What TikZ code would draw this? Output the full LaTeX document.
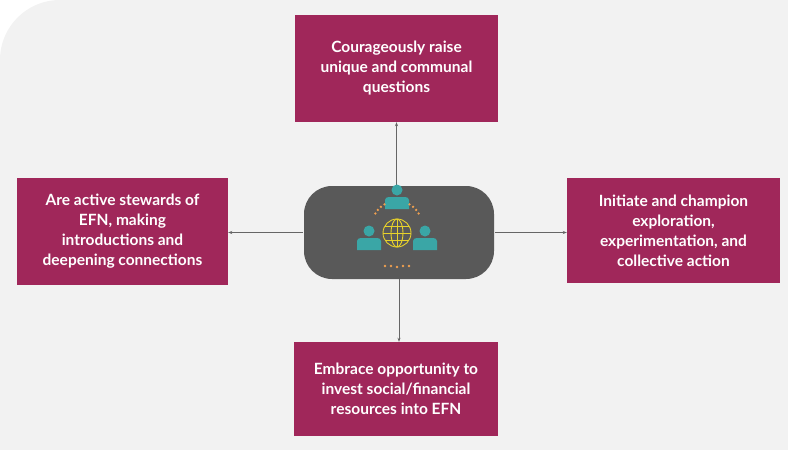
\documentclass[tikz,border=0pt]{standalone}
\usepackage{fontspec}
\setmainfont{Lato}
\usetikzlibrary{arrows.meta}
\definecolor{bg}{HTML}{F2F2F2}
\definecolor{box}{HTML}{A0275A}
\definecolor{dark}{HTML}{595959}
\definecolor{teal}{HTML}{3AA6A6}
\definecolor{gold}{HTML}{E8D22A}
\definecolor{dot}{HTML}{F0A050}
\begin{document}
\begin{tikzpicture}[x=1pt,y=-1pt,
  lbl/.style={fill=box,text=white,font=\fontsize{15.5}{20}\selectfont\bfseries,align=center,inner sep=0pt},
  conn/.style={draw=gray!80!black,line width=0.6pt,-{Stealth[length=4pt,width=3pt]}}]
\useasboundingbox (0,0) rectangle (788,450);
\fill[bg] (0,450) -- (0,60) arc[start angle=180,end angle=90,radius=60] -- (788,0) -- (788,390) arc[start angle=0,end angle=-90,radius=-60] -- cycle;
\fill[bg] (0,60) to[out=90,in=180] (60,0) -- (788,0) -- (788,390) to[out=-90,in=0] (728,450) -- (0,450) -- cycle;
\node[lbl,minimum width=203,minimum height=107] (t) at (396.5,68.5) {Courageously raise\\unique and communal\\questions};
\node[lbl,minimum width=211,minimum height=107] (l) at (122.5,231.5) {Are active stewards of\\EFN, making\\introductions and\\deepening connections};
\node[lbl,minimum width=213,minimum height=105] (r) at (673.5,230.5) {Initiate and champion\\exploration,\\experimentation, and\\collective action};
\node[lbl,minimum width=204,minimum height=94] (b) at (396,389) {Embrace opportunity to\\invest social/financial\\resources into EFN};
\node[fill=dark,rounded corners=28,minimum width=190,minimum height=93,inner sep=0pt] (c) at (399,232.5) {};
\draw[conn] (c.north-|t.south) -- (t.south);
\draw[conn] ([xshift=-1]c.west) -- (c.west-|l.east);
\draw[conn] ([xshift=1]c.east) -- (c.east-|r.west);
\draw[conn] (c.south) -- (c.south|-b.north);
% icon
\begin{scope}[shift={(397,232)}]
 \foreach \px/\py in {0/-30, -28/11, 28/11}{
  \fill[teal] (\px,\py-12) circle (5.5);
  \fill[teal] (\px-12,\py+7) -- (\px-12,\py-2) to[out=90,in=180] (\px-8,\py-5) -- (\px+8,\py-5) to[out=0,in=90] (\px+12,\py-2) -- (\px+12,\py+7) -- cycle;
 }
 \draw[gold,line width=0.9pt] (0,1) circle (14);
 \draw[gold,line width=0.9pt] (0,1) ellipse (6 and 14);
 \draw[gold,line width=0.9pt] (0,-13) -- (0,15) (-14,1) -- (14,1) (-12,-6) -- (12,-6) (-12,8) -- (12,8);
 \foreach \a in {-150,-140,-130,-120,-60,-50,-40,-30}{\fill[dot] (\a:25) ++(0,-6) circle (1.3);}
 \foreach \x in {-12,-6,0,6,12}{\fill[dot] (\x,\ifnum\x=0 35\else 34\fi) circle (1.3);}
\end{scope}
\end{tikzpicture}
\end{document}
